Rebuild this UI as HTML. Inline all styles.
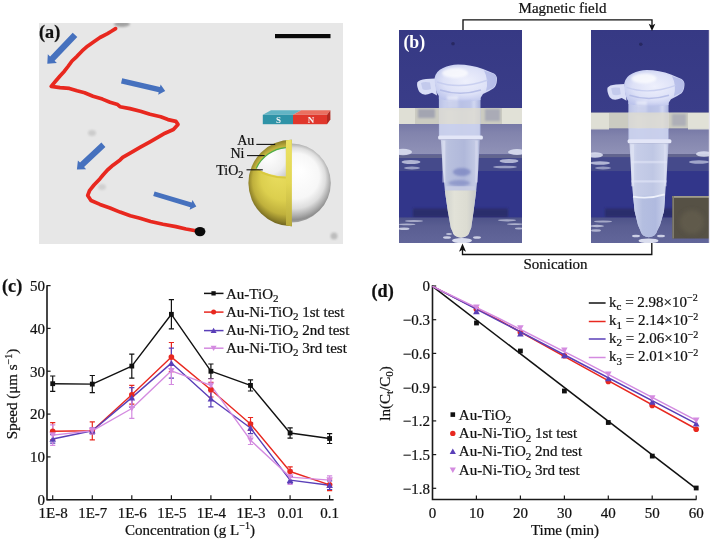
<!DOCTYPE html>
<html><head><meta charset="utf-8"><title>Figure</title>
<style>
html,body{margin:0;padding:0;background:#fff;}
body{width:710px;height:540px;overflow:hidden;}
svg{display:block;}
text{font-family:"Liberation Serif","DejaVu Serif",serif;fill:#111;stroke:#111;stroke-width:0.22px;}
.b{font-weight:bold;}
</style></head><body>
<svg width="710" height="540" viewBox="0 0 710 540">
<rect x="0" y="0" width="710" height="540" fill="#ffffff"/>
<defs>
<filter id="bl1" x="-20%" y="-20%" width="140%" height="140%"><feGaussianBlur stdDeviation="1"/></filter>
<filter id="bl2" x="-20%" y="-20%" width="140%" height="140%"><feGaussianBlur stdDeviation="2"/></filter>
<filter id="bl3" x="-30%" y="-30%" width="160%" height="160%"><feGaussianBlur stdDeviation="3.5"/></filter>
<filter id="bl05" x="-20%" y="-20%" width="140%" height="140%"><feGaussianBlur stdDeviation="0.5"/></filter>
</defs>
<g id="panelA">
<rect x="39" y="23" width="304" height="221" fill="#e7e7e7"/>
<clipPath id="cpA"><rect x="39" y="23" width="304" height="221"/></clipPath>
<g clip-path="url(#cpA)"><ellipse cx="122" cy="24" rx="8" ry="3" fill="#808080" opacity="0.65" filter="url(#bl1)"/></g>
<ellipse cx="92" cy="133" rx="4" ry="3" fill="#aaa" opacity="0.45" filter="url(#bl1)"/>
<ellipse cx="102" cy="187" rx="4" ry="3" fill="#b4b4b4" opacity="0.45" filter="url(#bl1)"/>
<ellipse cx="334" cy="236" rx="3.5" ry="3.5" fill="#aaa" opacity="0.7" filter="url(#bl1)"/>
<path d="M115.6 28.6 L111.0 31.5 L107.5 33.6 L100.0 37.5 L93.5 42.0 L87.5 46.2 L82.1 50.9 L77.0 56.3 L72.0 61.0 L68.0 66.5 L64.4 71.2 L60.0 76.0 L55.5 81.3 L51.2 86.4 L60.0 87.6 L69.4 88.4 L77.0 90.8 L84.6 92.7 L93.0 96.2 L102.4 99.1 L110.0 102.3 L117.6 104.6 L120.0 106.7 L130.0 108.6 L140.4 111.2 L150.0 114.3 L160.7 116.8 L168.0 119.6 L175.9 121.4 L178.0 124.4 L173.4 129.5 L165.0 133.2 L158.2 137.1 L150.0 141.8 L140.4 147.2 L131.0 152.6 L122.7 157.4 L120.1 159.9 L113.0 165.2 L107.5 170.0 L103.0 175.0 L99.8 178.9 L94.0 185.0 L89.7 190.3 L87.7 195.4 L91.0 200.5 L100.0 204.4 L110.0 208.0 L120.0 212.1 L130.3 215.7 L140.0 218.2 L150.6 221.5 L163.0 224.2 L175.9 226.6 L186.0 229.0 L197.0 231.0" fill="none" stroke="#e8281f" stroke-width="3.7" stroke-linejoin="round" stroke-linecap="round"/>
<ellipse cx="200" cy="231.6" rx="5.4" ry="4.7" fill="#0a0a0a"/>
<polygon points="72.7,32.7 50.1,56.4 47.8,54.2 47.3,63.8 56.9,62.9 54.6,60.7 77.3,37.1" fill="#4671be"/>
<polygon points="121.0,83.4 158.7,92.3 158.2,94.8 165.2,91.1 160.6,84.6 160.0,87.1 122.2,78.2" fill="#4671be"/>
<polygon points="101.4,142.6 80.0,162.6 77.9,160.4 76.9,169.6 86.1,169.2 84.1,167.0 105.4,147.0" fill="#4671be"/>
<polygon points="153.2,196.1 190.3,207.2 189.6,209.7 196.3,206.4 192.5,199.9 191.7,202.5 154.6,191.5" fill="#4671be"/>
<g id="magnet">
<polygon points="262.8,114.8 271,110.3 301.2,110.3 293,114.8" fill="#62b4c4"/>
<polygon points="293,114.8 301.2,110.3 330.4,110.3 327,114.8" fill="#ea6f60"/>
<polygon points="327,114.8 330.4,110.3 330.4,119.6 327,124.2" fill="#b32b22"/>
<rect x="262.8" y="114.8" width="30.2" height="9.4" fill="#2f93a7"/>
<rect x="293" y="114.8" width="34" height="9.4" fill="#e0372c"/>
<text x="278.6" y="122.6" font-size="9" text-anchor="middle" class="b" style="fill:#f4f4f4;stroke:none">S</text>
<text x="311" y="122.6" font-size="9" text-anchor="middle" class="b" style="fill:#f4f4f4;stroke:none">N</text>
</g>
<defs>
<radialGradient id="gWhite" gradientUnits="userSpaceOnUse" cx="293" cy="181" r="41" fx="301" fy="170"><stop offset="0" stop-color="#ffffff"/><stop offset="0.55" stop-color="#f7f7f7"/><stop offset="0.74" stop-color="#dedede"/><stop offset="0.88" stop-color="#adadad"/><stop offset="0.96" stop-color="#8e8e8e"/><stop offset="1" stop-color="#a2a2a2"/></radialGradient>
<radialGradient id="gYel" gradientUnits="userSpaceOnUse" cx="290" cy="182" r="44" fx="276" fy="174"><stop offset="0" stop-color="#e9dd5e"/><stop offset="0.5" stop-color="#dccf4e"/><stop offset="0.78" stop-color="#bfb03c"/><stop offset="0.92" stop-color="#8f822a"/><stop offset="1" stop-color="#6e6320"/></radialGradient>
<radialGradient id="gInner" gradientUnits="userSpaceOnUse" cx="268" cy="156" r="30"><stop offset="0" stop-color="#ffffff"/><stop offset="0.6" stop-color="#efefef"/><stop offset="1" stop-color="#bdbdbd"/></radialGradient>
<linearGradient id="gStripe" x1="0" y1="0" x2="0" y2="1"><stop offset="0" stop-color="#ece262"/><stop offset="0.5" stop-color="#e2d654"/><stop offset="1" stop-color="#b9ab3c"/></linearGradient>
<clipPath id="cpYel"><rect x="240" y="135" width="51.8" height="100"/></clipPath>
<clipPath id="cpWh"><rect x="291.6" y="135" width="50" height="100"/></clipPath>
</defs>
<g id="sphere">
<circle cx="291.6" cy="183" r="43.2" fill="url(#gYel)" clip-path="url(#cpYel)"/>
<circle cx="291.4" cy="183" r="39.4" fill="url(#gWhite)" clip-path="url(#cpWh)"/>
<path d="M286 140.3 L291.8 139.8 L291.8 226.2 L286 225.6 Z" fill="url(#gStripe)"/>
<path d="M285.8 147.8 A36.5 36.5 0 0 0 256.3 168.2 Q270 176.4 285.8 176.4 Z" fill="url(#gInner)"/>
<path d="M256.3 168.6 Q270 177 285.8 176.8 L285.8 178.4 Q269 178.6 255.6 170.2 Z" fill="#d9c93f"/>
<path d="M285.8 147.6 A36.5 36.5 0 0 0 256.2 168.4" fill="none" stroke="#4fae4a" stroke-width="1.1"/>
</g>
<line x1="256.3" x2="275.2" y1="144.4" y2="144.4" stroke="#111" stroke-width="1.1"/>
<line x1="247" x2="264.6" y1="155.6" y2="155.6" stroke="#111" stroke-width="1.1"/>
<line x1="246.5" x2="262.8" y1="169.8" y2="169.8" stroke="#111" stroke-width="1.1"/>
<text x="237.2" y="145" font-size="14">Au</text>
<text x="230.5" y="158.4" font-size="14">Ni</text>
<text x="216.3" y="175" font-size="14">TiO<tspan dy="2.8" font-size="10">2</tspan></text>
<rect x="275" y="34" width="55.5" height="4.2" fill="#0a0a0a"/>
<text class="b" x="39" y="38.2" font-size="18.2">(a)</text>
</g>
<g id="panelB">
<defs>
<clipPath id="cpL"><rect x="399" y="30" width="123" height="213"/></clipPath>
<clipPath id="cpR"><rect x="591" y="30" width="119" height="213"/></clipPath>
<linearGradient id="gTop" x1="0" y1="0" x2="0" y2="1"><stop offset="0" stop-color="#363984"/><stop offset="0.5" stop-color="#3b3e8a"/><stop offset="1" stop-color="#373a86"/></linearGradient>
<linearGradient id="gMid" x1="0" y1="0" x2="0" y2="1"><stop offset="0" stop-color="#7779a6"/><stop offset="0.3" stop-color="#8284ad"/><stop offset="1" stop-color="#9092b7"/></linearGradient>
<linearGradient id="gBot" x1="0" y1="0" x2="0" y2="1"><stop offset="0" stop-color="#4e5389"/><stop offset="0.35" stop-color="#5a5e92"/><stop offset="1" stop-color="#62669a"/></linearGradient>
<linearGradient id="gBody" x1="0" y1="0" x2="1" y2="0"><stop offset="0" stop-color="#b9c1e6"/><stop offset="0.25" stop-color="#d3d9f2"/><stop offset="0.55" stop-color="#c3cbea"/><stop offset="0.85" stop-color="#d0d6f0"/><stop offset="1" stop-color="#aab3de"/></linearGradient>
<linearGradient id="gCone" x1="0" y1="0" x2="1" y2="0"><stop offset="0" stop-color="#c8cee6"/><stop offset="0.2" stop-color="#b8c0de"/><stop offset="0.6" stop-color="#b0b8da"/><stop offset="0.88" stop-color="#c2c9e4"/><stop offset="1" stop-color="#b0b8da"/></linearGradient>
<linearGradient id="gConeR" x1="0" y1="0" x2="1" y2="0"><stop offset="0" stop-color="#d6dbef"/><stop offset="0.2" stop-color="#c6cde8"/><stop offset="0.6" stop-color="#bfc7e4"/><stop offset="0.88" stop-color="#d0d6ec"/><stop offset="1" stop-color="#bfc7e4"/></linearGradient>
<linearGradient id="gMilk" x1="0" y1="0" x2="1" y2="0"><stop offset="0" stop-color="#cfd1cc"/><stop offset="0.3" stop-color="#e2e2d8"/><stop offset="0.7" stop-color="#dcdcd2"/><stop offset="1" stop-color="#c6c8c8"/></linearGradient>
<linearGradient id="gClear" x1="0" y1="0" x2="1" y2="0"><stop offset="0" stop-color="#ccd3ec"/><stop offset="0.3" stop-color="#b4bee0"/><stop offset="0.7" stop-color="#b0badf"/><stop offset="1" stop-color="#c8cfea"/></linearGradient>
<radialGradient id="gLid" cx="0.5" cy="0.45" r="0.6"><stop offset="0" stop-color="#eef0fc"/><stop offset="0.6" stop-color="#dde1f7"/><stop offset="1" stop-color="#bcc4ec"/></radialGradient>
</defs>
<g clip-path="url(#cpL)">
<rect x="399" y="30" width="123" height="213" fill="url(#gTop)"/>
<rect x="399" y="124.0" width="123" height="30.5" fill="url(#gMid)"/>
<rect x="399" y="154.5" width="123" height="3.5" fill="#62658f"/>
<rect x="399" y="158.0" width="123" height="13.0" fill="#454a8b"/>
<rect x="399" y="171.0" width="123" height="46.5" fill="#32368a"/>
<rect x="413" y="208.5" width="95" height="9.0" fill="#2b2e6c" filter="url(#bl1)"/>
<rect x="399" y="217.5" width="123" height="25.5" fill="url(#gBot)"/>
<rect x="399" y="108.0" width="123" height="16.0" fill="#cbcbc1"/>
</g>
<g clip-path="url(#cpL)">
<rect x="418" y="109" width="17" height="9" fill="#9a9cae" opacity="0.8" filter="url(#bl1)"/>
<rect x="485" y="109" width="15" height="12" fill="#a2a4b4" opacity="0.8" filter="url(#bl1)"/>
<rect x="399" y="108" width="16" height="16" fill="#e2e2d8" opacity="0.9" filter="url(#bl05)"/>
<rect x="502" y="108" width="20" height="16" fill="#e4e4da" opacity="0.9" filter="url(#bl05)"/>
<ellipse cx="403" cy="152" rx="9" ry="3.2" fill="#dfe3f4" opacity="0.85" filter="url(#bl05)"/>
<ellipse cx="517" cy="152" rx="9" ry="3.0" fill="#dfe3f4" opacity="0.85" filter="url(#bl05)"/>
<ellipse cx="411" cy="162" rx="9.5" ry="2" fill="#dfe3f4" opacity="0.7" filter="url(#bl05)"/>
<ellipse cx="509" cy="161" rx="9.5" ry="2" fill="#dfe3f4" opacity="0.7" filter="url(#bl05)"/>
<ellipse cx="412" cy="168" rx="8" ry="1.5" fill="#dfe3f4" opacity="0.55" filter="url(#bl05)"/>
<ellipse cx="505" cy="167" rx="12" ry="1.3" fill="#dfe3f4" opacity="0.55" filter="url(#bl05)"/>
<ellipse cx="414" cy="221" rx="9" ry="1.1" fill="#e8ebf8" opacity="0.55" filter="url(#bl05)"/>
<ellipse cx="407" cy="224.4" rx="8.5" ry="0.9" fill="#e8ebf8" opacity="0.6" filter="url(#bl05)"/>
<ellipse cx="404" cy="228.8" rx="5.5" ry="1.2" fill="#e8ebf8" opacity="0.75" filter="url(#bl05)"/>
<ellipse cx="507" cy="220.3" rx="9" ry="1.1" fill="#e8ebf8" opacity="0.55" filter="url(#bl05)"/>
<ellipse cx="515" cy="224.2" rx="8" ry="0.9" fill="#e8ebf8" opacity="0.6" filter="url(#bl05)"/>
<ellipse cx="519" cy="228.5" rx="4" ry="0.9" fill="#e8ebf8" opacity="0.6" filter="url(#bl05)"/>
<ellipse cx="449" cy="234" rx="3" ry="1.1" fill="#e8ebf8" opacity="0.7" filter="url(#bl05)"/>
<ellipse cx="462" cy="240.6" rx="10" ry="2.6" fill="#e8ebf8" opacity="0.9" filter="url(#bl05)"/>
<ellipse cx="447" cy="237.5" rx="4" ry="1.3" fill="#e8ebf8" opacity="0.8" filter="url(#bl05)"/>
<ellipse cx="477" cy="237.5" rx="4" ry="1.3" fill="#e8ebf8" opacity="0.8" filter="url(#bl05)"/>
<ellipse cx="453" cy="43.7" rx="1.8" ry="1.8" fill="#25265c" opacity="0.85" filter="url(#bl05)"/>
</g>
<g clip-path="url(#cpL)"><g transform="" filter="url(#bl05)">
<path d="M435 78.5 L426 79 Q419 79.5 417.2 82.5 Q416.5 87 419.5 92 Q423 95.8 428 94.2 L432 92.8 L437 95.5 Z" fill="#d9def6"/>
<path d="M421 83 Q424 81.5 430 82.5 L431 89 Q425 91 422.5 89 Z" fill="#b4bce6" opacity="0.6"/>
<rect x="438.9" y="88" width="41.6" height="50" fill="url(#gBody)"/>
<path d="M434.6 78 Q436 71 443 68 Q450 64.6 458 64.5 Q471 64.6 483 69 L494 73.5 Q497.5 76 497 80 Q496.6 85.5 494 88 Q489 91.5 483 94 L480.5 98 L480.5 100 Q460 104 438.9 99 L438.9 96 Q435 92 434.6 78 Z" fill="url(#gLid)"/>
<path d="M484 70.5 L494 74 Q497 76.5 496.5 80 Q496 85 493.5 87.5 L486 91 Q489 80 484 70.5 Z" fill="#aeb6e6" opacity="0.75" filter="url(#bl05)"/>
<ellipse cx="455" cy="73" rx="13" ry="5" fill="#ffffff" opacity="0.7" filter="url(#bl1)"/>
<rect x="447" y="96" width="11" height="12" fill="#ffffff" opacity="0.45" filter="url(#bl1)"/>
<path d="M440 90 Q460 96.5 481 90" fill="none" stroke="#aeb7e4" stroke-width="1.6" opacity="0.8"/>
<path d="M437 82 Q460 90 488 80" fill="none" stroke="#c2c9ee" stroke-width="1.4" opacity="0.8"/>
<rect x="446" y="100" width="26" height="10" fill="#aeb7e2" opacity="0.45" filter="url(#bl1)"/>
</g></g>
<g clip-path="url(#cpL)"><g filter="url(#bl05)">
<rect x="438.9" y="108.0" width="41.6" height="16.0" fill="#dedccf" opacity="0.8"/>
<rect x="439.7" y="124.0" width="40.0" height="12.5" fill="#c9cfec" opacity="0.92"/>
<rect x="438.1" y="135.5" width="44.8" height="4" rx="1.5" fill="#e3e6f7"/>
<path d="M440.8 139.5 L442.8 169.4 L445.0 191.7 L447.8 211.1 L450.8 227.8 L452.5 231.5 Q453.3 237.0 461.1 237.7 Q468.8 237.0 469.6 231.5 L471.2 227.8 L473.6 211.1 L476.1 191.7 L478.3 169.4 L479.7 139.5 Z" fill="url(#gCone)"/>
<path d="M444.9 190.3 L445.0 191.7 L447.8 211.1 L450.8 227.8 L452.5 231.5 Q453.3 237.0 461.1 237.7 Q468.8 237.0 469.6 231.5 L471.2 227.8 L473.6 211.1 L476.1 191.7 L476.2 190.3 Z" fill="url(#gMilk)"/>
<ellipse cx="461.8" cy="172" rx="9" ry="4" fill="#5f6ab4" opacity="0.5" filter="url(#bl1)"/>
<ellipse cx="459.2" cy="183" rx="11" ry="3" fill="#6873b8" opacity="0.45" filter="url(#bl1)"/>
<rect x="445.8" y="186.3" width="28.9" height="4" fill="#cdd2e6" opacity="0.7"/>
<rect x="442.4" y="140.5" width="3" height="42" fill="#e6e9f8" opacity="0.55"/>
<rect x="475.3" y="140.5" width="2.6" height="42" fill="#e6e9f8" opacity="0.45"/>
</g></g>
<g clip-path="url(#cpR)">
<rect x="591" y="30" width="119" height="213" fill="url(#gTop)"/>
<rect x="591" y="128.5" width="119" height="25.5" fill="url(#gMid)"/>
<rect x="591" y="154.0" width="119" height="3.5" fill="#62658f"/>
<rect x="591" y="157.5" width="119" height="13.7" fill="#454a8b"/>
<rect x="591" y="171.2" width="119" height="46.3" fill="#32368a"/>
<rect x="605" y="208.5" width="91" height="9.0" fill="#2b2e6c" filter="url(#bl1)"/>
<rect x="591" y="217.5" width="119" height="25.5" fill="url(#gBot)"/>
<rect x="591" y="112.5" width="119" height="16.0" fill="#cbcbc1"/>
</g>
<g clip-path="url(#cpR)">
<rect x="591" y="113" width="18" height="16.5" fill="#e2e2d8" opacity="0.9" filter="url(#bl05)"/>
<rect x="672" y="114" width="14" height="12" fill="#a2a4b4" opacity="0.7" filter="url(#bl1)"/>
<rect x="688" y="113" width="22" height="16.5" fill="#e4e4da" opacity="0.9" filter="url(#bl05)"/>
<ellipse cx="595" cy="155" rx="8" ry="2.8" fill="#dfe3f4" opacity="0.85" filter="url(#bl05)"/>
<ellipse cx="704" cy="154" rx="8" ry="2.8" fill="#dfe3f4" opacity="0.85" filter="url(#bl05)"/>
<ellipse cx="600" cy="163" rx="10" ry="1.8" fill="#dfe3f4" opacity="0.7" filter="url(#bl05)"/>
<ellipse cx="699" cy="162" rx="10" ry="1.8" fill="#dfe3f4" opacity="0.6" filter="url(#bl05)"/>
<ellipse cx="603" cy="168" rx="8" ry="1.4" fill="#dfe3f4" opacity="0.5" filter="url(#bl05)"/>
<ellipse cx="603" cy="221.5" rx="9" ry="1.1" fill="#e8ebf8" opacity="0.55" filter="url(#bl05)"/>
<ellipse cx="597" cy="226" rx="7" ry="1.2" fill="#e8ebf8" opacity="0.65" filter="url(#bl05)"/>
<ellipse cx="596" cy="230.5" rx="5" ry="1.2" fill="#e8ebf8" opacity="0.6" filter="url(#bl05)"/>
<ellipse cx="648.5" cy="240.8" rx="10" ry="2.4" fill="#e8ebf8" opacity="0.9" filter="url(#bl05)"/>
<ellipse cx="636" cy="236" rx="4" ry="1.3" fill="#e8ebf8" opacity="0.8" filter="url(#bl05)"/>
<ellipse cx="661" cy="236" rx="4" ry="1.3" fill="#e8ebf8" opacity="0.8" filter="url(#bl05)"/>
<ellipse cx="640.8" cy="44.2" rx="1.8" ry="1.8" fill="#25265c" opacity="0.85" filter="url(#bl05)"/>
</g>
<g clip-path="url(#cpR)"><g transform="translate(189.5 5.6) translate(438.9 64.5) scale(0.965 0.985) translate(-438.9 -64.5)" filter="url(#bl05)">
<path d="M435 78.5 L426 79 Q419 79.5 417.2 82.5 Q416.5 87 419.5 92 Q423 95.8 428 94.2 L432 92.8 L437 95.5 Z" fill="#d9def6"/>
<path d="M421 83 Q424 81.5 430 82.5 L431 89 Q425 91 422.5 89 Z" fill="#b4bce6" opacity="0.6"/>
<rect x="438.9" y="88" width="41.6" height="50" fill="url(#gBody)"/>
<path d="M434.6 78 Q436 71 443 68 Q450 64.6 458 64.5 Q471 64.6 483 69 L494 73.5 Q497.5 76 497 80 Q496.6 85.5 494 88 Q489 91.5 483 94 L480.5 98 L480.5 100 Q460 104 438.9 99 L438.9 96 Q435 92 434.6 78 Z" fill="url(#gLid)"/>
<path d="M484 70.5 L494 74 Q497 76.5 496.5 80 Q496 85 493.5 87.5 L486 91 Q489 80 484 70.5 Z" fill="#aeb6e6" opacity="0.75" filter="url(#bl05)"/>
<ellipse cx="455" cy="73" rx="13" ry="5" fill="#ffffff" opacity="0.7" filter="url(#bl1)"/>
<rect x="447" y="96" width="11" height="12" fill="#ffffff" opacity="0.45" filter="url(#bl1)"/>
<path d="M440 90 Q460 96.5 481 90" fill="none" stroke="#aeb7e4" stroke-width="1.6" opacity="0.8"/>
<path d="M437 82 Q460 90 488 80" fill="none" stroke="#c2c9ee" stroke-width="1.4" opacity="0.8"/>
<rect x="446" y="100" width="26" height="10" fill="#aeb7e2" opacity="0.45" filter="url(#bl1)"/>
</g></g>
<g clip-path="url(#cpR)"><g filter="url(#bl05)">
<rect x="628.4" y="112.5" width="40.6" height="16.0" fill="#dedccf" opacity="0.8"/>
<rect x="629.2" y="128.5" width="39.0" height="11.8" fill="#c9cfec" opacity="0.92"/>
<rect x="627.6" y="139.3" width="43.8" height="4" rx="1.5" fill="#e3e6f7"/>
<path d="M629.5 143.3 L631.0 170.0 L632.5 190.0 L634.6 211.0 L638.0 225.0 L640.6 231.0 Q641.4 236.5 648.8 237.2 Q656.2 236.5 657.0 231.0 L660.0 225.0 L664.0 211.0 L665.5 190.0 L667.0 170.0 L668.5 143.3 Z" fill="url(#gConeR)"/>
<path d="M633.1 195.8 L634.6 211.0 L638.0 225.0 L640.6 231.0 Q641.4 236.5 648.8 237.2 Q656.2 236.5 657.0 231.0 L660.0 225.0 L664.0 211.0 L665.1 195.8 Z" fill="url(#gClear)"/>
<path d="M633.0 196.6 Q649.0 199.4 664.7 194.4" fill="none" stroke="#eef1fb" stroke-width="1.7"/>
<rect x="631.5" y="180.3" width="35.0" height="2.2" fill="#dfe4f6" opacity="0.7"/>
<rect x="631.0" y="160.8" width="36.0" height="2.5" fill="#e3e7f7" opacity="0.55"/>
<rect x="631.1" y="144.3" width="3" height="42" fill="#e6e9f8" opacity="0.55"/>
<rect x="664.1" y="144.3" width="2.6" height="42" fill="#e6e9f8" opacity="0.45"/>
</g></g>
<g clip-path="url(#cpR)"><rect x="672.4" y="196" width="38" height="42.5" fill="#565145"/>
<rect x="672.4" y="196" width="38" height="1.8" fill="#a09c8a"/><rect x="672.4" y="196" width="1.6" height="42.5" fill="#807c6e"/>
<ellipse cx="692" cy="222" rx="12" ry="12" fill="#635d4e" opacity="0.8" filter="url(#bl2)"/></g>
<rect x="708.8" y="30" width="1.2" height="213" fill="#e8e6f0"/>

<path d="M463 30 V19.9 H652 V27" fill="none" stroke="#111" stroke-width="1.35"/>
<path d="M652 31 L648.7 23.7 L652 25.6 L655.3 23.7 Z" fill="#111"/>
<path d="M651.8 243 V254.5 H462.5 V249" fill="none" stroke="#111" stroke-width="1.35"/>
<path d="M462.5 243.6 L459 251.8 L462.5 249.8 L466 251.8 Z" fill="#111"/>
<text x="562.5" y="12.5" font-size="15" text-anchor="middle">Magnetic field</text>
<text x="555.5" y="268.5" font-size="15" text-anchor="middle">Sonication</text>
<text class="b" x="403.4" y="48.3" font-size="17.8" style="fill:#ffffff;stroke:none">(b)</text>
</g>
<g id="panelC">
<path d="M47 285.2 V499.8 H333.6" fill="none" stroke="#1a1a1a" stroke-width="1.6"/>
<line x1="47" x2="50.6" y1="499.8" y2="499.8" stroke="#1a1a1a" stroke-width="1.2"/>
<text x="45" y="505.1" font-size="15" text-anchor="end">0</text>
<line x1="47" x2="50.6" y1="456.9" y2="456.9" stroke="#1a1a1a" stroke-width="1.2"/>
<text x="45" y="462.2" font-size="15" text-anchor="end">10</text>
<line x1="47" x2="50.6" y1="414.1" y2="414.1" stroke="#1a1a1a" stroke-width="1.2"/>
<text x="45" y="419.4" font-size="15" text-anchor="end">20</text>
<line x1="47" x2="50.6" y1="371.2" y2="371.2" stroke="#1a1a1a" stroke-width="1.2"/>
<text x="45" y="376.6" font-size="15" text-anchor="end">30</text>
<line x1="47" x2="50.6" y1="328.4" y2="328.4" stroke="#1a1a1a" stroke-width="1.2"/>
<text x="45" y="333.7" font-size="15" text-anchor="end">40</text>
<line x1="47" x2="50.6" y1="285.6" y2="285.6" stroke="#1a1a1a" stroke-width="1.2"/>
<text x="45" y="290.9" font-size="15" text-anchor="end">50</text>
<line x1="52.7" x2="52.7" y1="499.8" y2="495.2" stroke="#1a1a1a" stroke-width="1.2"/>
<text x="53.2" y="517.5" font-size="15" text-anchor="middle">1E-8</text>
<line x1="92.3" x2="92.3" y1="499.8" y2="495.2" stroke="#1a1a1a" stroke-width="1.2"/>
<text x="92.8" y="517.5" font-size="15" text-anchor="middle">1E-7</text>
<line x1="131.8" x2="131.8" y1="499.8" y2="495.2" stroke="#1a1a1a" stroke-width="1.2"/>
<text x="132.3" y="517.5" font-size="15" text-anchor="middle">1E-6</text>
<line x1="171.4" x2="171.4" y1="499.8" y2="495.2" stroke="#1a1a1a" stroke-width="1.2"/>
<text x="171.9" y="517.5" font-size="15" text-anchor="middle">1E-5</text>
<line x1="210.9" x2="210.9" y1="499.8" y2="495.2" stroke="#1a1a1a" stroke-width="1.2"/>
<text x="211.4" y="517.5" font-size="15" text-anchor="middle">1E-4</text>
<line x1="250.5" x2="250.5" y1="499.8" y2="495.2" stroke="#1a1a1a" stroke-width="1.2"/>
<text x="251.0" y="517.5" font-size="15" text-anchor="middle">1E-3</text>
<line x1="290.1" x2="290.1" y1="499.8" y2="495.2" stroke="#1a1a1a" stroke-width="1.2"/>
<text x="290.6" y="517.5" font-size="15" text-anchor="middle">0.01</text>
<line x1="329.6" x2="329.6" y1="499.8" y2="495.2" stroke="#1a1a1a" stroke-width="1.2"/>
<text x="329.6" y="517.5" font-size="15" text-anchor="middle">0.1</text>
<text x="190" y="534.5" font-size="15" text-anchor="middle">Concentration (g L<tspan dy="-5.5" font-size="10">−1</tspan><tspan dy="5.5">)</tspan></text>
<text transform="translate(17.3,394) rotate(-90)" font-size="15" text-anchor="middle">Speed (μm s<tspan dy="-5.5" font-size="10">−1</tspan><tspan dy="5.5">)</tspan></text>
<text class="b" x="2" y="292" font-size="18.2">(c)</text>
<path d="M52.7 383.7 L92.3 384.1 L131.8 366.1 L171.4 314.3 L210.9 371.2 L250.5 385.4 L290.1 433.0 L329.6 438.5" fill="none" stroke="#111111" stroke-width="1.4" stroke-linejoin="round"/>
<path d="M52.7 376.0 V391.4 M50.1 376.0 H55.3 M50.1 391.4 H55.3 M92.3 375.5 V392.7 M89.7 375.5 H94.9 M89.7 392.7 H94.9 M131.8 354.1 V378.1 M129.2 354.1 H134.4 M129.2 378.1 H134.4 M171.4 299.7 V328.8 M168.8 299.7 H174.0 M168.8 328.8 H174.0 M210.9 364.0 V378.5 M208.3 364.0 H213.5 M208.3 378.5 H213.5 M250.5 379.8 V391.0 M247.9 379.8 H253.1 M247.9 391.0 H253.1 M290.1 427.8 V438.1 M287.5 427.8 H292.7 M287.5 438.1 H292.7 M329.6 433.6 V443.5 M327.0 433.6 H332.2 M327.0 443.5 H332.2 " fill="none" stroke="#111111" stroke-width="1.2"/>
<path d="M52.7 431.2 L92.3 430.8 L131.8 394.8 L171.4 357.1 L210.9 389.7 L250.5 424.0 L290.1 471.5 L329.6 484.8" fill="none" stroke="#e8281f" stroke-width="1.4" stroke-linejoin="round"/>
<path d="M52.7 422.7 V439.8 M50.1 422.7 H55.3 M50.1 439.8 H55.3 M92.3 421.8 V439.8 M89.7 421.8 H94.9 M89.7 439.8 H94.9 M131.8 385.4 V404.2 M129.2 385.4 H134.4 M129.2 404.2 H134.4 M171.4 342.5 V371.7 M168.8 342.5 H174.0 M168.8 371.7 H174.0 M210.9 382.4 V397.0 M208.3 382.4 H213.5 M208.3 397.0 H213.5 M250.5 417.5 V430.4 M247.9 417.5 H253.1 M247.9 430.4 H253.1 M290.1 466.8 V476.2 M287.5 466.8 H292.7 M287.5 476.2 H292.7 M329.6 479.0 V490.6 M327.0 479.0 H332.2 M327.0 490.6 H332.2 " fill="none" stroke="#e8281f" stroke-width="1.2"/>
<path d="M52.7 439.0 L92.3 430.8 L131.8 397.6 L171.4 363.1 L210.9 398.7 L250.5 428.0 L290.1 480.1 L329.6 485.2" fill="none" stroke="#5a3fb8" stroke-width="1.4" stroke-linejoin="round"/>
<path d="M52.7 434.7 V443.2 M50.1 434.7 H55.3 M50.1 443.2 H55.3 M92.3 427.8 V433.8 M89.7 427.8 H94.9 M89.7 433.8 H94.9 M131.8 387.7 V407.5 M129.2 387.7 H134.4 M129.2 407.5 H134.4 M171.4 348.1 V378.1 M168.8 348.1 H174.0 M168.8 378.1 H174.0 M210.9 390.5 V406.8 M208.3 390.5 H213.5 M208.3 406.8 H213.5 M250.5 422.5 V433.6 M247.9 422.5 H253.1 M247.9 433.6 H253.1 M290.1 476.7 V483.5 M287.5 476.7 H292.7 M287.5 483.5 H292.7 M329.6 480.9 V489.5 M327.0 480.9 H332.2 M327.0 489.5 H332.2 " fill="none" stroke="#5a3fb8" stroke-width="1.2"/>
<path d="M52.7 435.1 L92.3 430.8 L131.8 408.5 L171.4 370.8 L210.9 385.4 L250.5 440.2 L290.1 477.1 L329.6 480.1" fill="none" stroke="#d48be0" stroke-width="1.4" stroke-linejoin="round"/>
<path d="M52.7 424.8 V445.4 M50.1 424.8 H55.3 M50.1 445.4 H55.3 M92.3 427.8 V433.8 M89.7 427.8 H94.9 M89.7 433.8 H94.9 M131.8 398.7 V418.4 M129.2 398.7 H134.4 M129.2 418.4 H134.4 M171.4 357.1 V384.5 M168.8 357.1 H174.0 M168.8 384.5 H174.0 M210.9 379.0 V391.8 M208.3 379.0 H213.5 M208.3 391.8 H213.5 M250.5 436.0 V444.5 M247.9 436.0 H253.1 M247.9 444.5 H253.1 M290.1 469.8 V484.4 M287.5 469.8 H292.7 M287.5 484.4 H292.7 M329.6 475.8 V484.4 M327.0 475.8 H332.2 M327.0 484.4 H332.2 " fill="none" stroke="#d48be0" stroke-width="1.2"/>
<rect x="50.3" y="381.3" width="4.8" height="4.8" fill="#111111"/>
<rect x="89.9" y="381.7" width="4.8" height="4.8" fill="#111111"/>
<rect x="129.4" y="363.7" width="4.8" height="4.8" fill="#111111"/>
<rect x="169.0" y="311.9" width="4.8" height="4.8" fill="#111111"/>
<rect x="208.5" y="368.9" width="4.8" height="4.8" fill="#111111"/>
<rect x="248.1" y="383.0" width="4.8" height="4.8" fill="#111111"/>
<rect x="287.7" y="430.6" width="4.8" height="4.8" fill="#111111"/>
<rect x="327.2" y="436.1" width="4.8" height="4.8" fill="#111111"/>
<circle cx="52.7" cy="431.2" r="2.8" fill="#e8281f"/>
<circle cx="92.3" cy="430.8" r="2.8" fill="#e8281f"/>
<circle cx="131.8" cy="394.8" r="2.8" fill="#e8281f"/>
<circle cx="171.4" cy="357.1" r="2.8" fill="#e8281f"/>
<circle cx="210.9" cy="389.7" r="2.8" fill="#e8281f"/>
<circle cx="250.5" cy="424.0" r="2.8" fill="#e8281f"/>
<circle cx="290.1" cy="471.5" r="2.8" fill="#e8281f"/>
<circle cx="329.6" cy="484.8" r="2.8" fill="#e8281f"/>
<polygon points="52.7,435.9 49.4,441.8 56.0,441.8" fill="#5a3fb8"/>
<polygon points="92.3,427.7 89.0,433.6 95.6,433.6" fill="#5a3fb8"/>
<polygon points="131.8,394.5 128.5,400.4 135.1,400.4" fill="#5a3fb8"/>
<polygon points="171.4,360.0 168.1,365.9 174.7,365.9" fill="#5a3fb8"/>
<polygon points="210.9,395.6 207.6,401.5 214.2,401.5" fill="#5a3fb8"/>
<polygon points="250.5,424.9 247.2,430.8 253.8,430.8" fill="#5a3fb8"/>
<polygon points="290.1,477.0 286.8,482.9 293.4,482.9" fill="#5a3fb8"/>
<polygon points="329.6,482.1 326.3,488.0 332.9,488.0" fill="#5a3fb8"/>
<polygon points="52.7,438.2 49.4,432.3 56.0,432.3" fill="#d48be0"/>
<polygon points="92.3,433.9 89.0,428.0 95.6,428.0" fill="#d48be0"/>
<polygon points="131.8,411.6 128.5,405.7 135.1,405.7" fill="#d48be0"/>
<polygon points="171.4,373.9 168.1,368.0 174.7,368.0" fill="#d48be0"/>
<polygon points="210.9,388.5 207.6,382.6 214.2,382.6" fill="#d48be0"/>
<polygon points="250.5,443.3 247.2,437.4 253.8,437.4" fill="#d48be0"/>
<polygon points="290.1,480.2 286.8,474.3 293.4,474.3" fill="#d48be0"/>
<polygon points="329.6,483.2 326.3,477.3 332.9,477.3" fill="#d48be0"/>
<line x1="204" x2="223.5" y1="293.4" y2="293.4" stroke="#111111" stroke-width="1.5"/>
<rect x="211.4" y="291.2" width="4.3" height="4.3" fill="#111111"/>
<text x="226" y="298.6" font-size="15">Au-TiO<tspan dy="3.2" font-size="11">2</tspan><tspan dy="-3.2"></tspan></text>
<line x1="204" x2="223.5" y1="312.1" y2="312.1" stroke="#e8281f" stroke-width="1.5"/>
<circle cx="213.6" cy="312.1" r="2.5" fill="#e8281f"/>
<text x="226" y="317.0" font-size="15">Au-Ni-TiO<tspan dy="3.2" font-size="11">2</tspan><tspan dy="-3.2"> 1st test</tspan></text>
<line x1="204" x2="223.5" y1="330.6" y2="330.6" stroke="#5a3fb8" stroke-width="1.5"/>
<polygon points="213.6,327.8 210.6,333.1 216.6,333.1" fill="#5a3fb8"/>
<text x="226" y="335.0" font-size="15">Au-Ni-TiO<tspan dy="3.2" font-size="11">2</tspan><tspan dy="-3.2"> 2nd test</tspan></text>
<line x1="204" x2="223.5" y1="348.2" y2="348.2" stroke="#d48be0" stroke-width="1.5"/>
<polygon points="213.6,351.0 210.6,345.7 216.6,345.7" fill="#d48be0"/>
<text x="226" y="352.9" font-size="15">Au-Ni-TiO<tspan dy="3.2" font-size="11">2</tspan><tspan dy="-3.2"> 3rd test</tspan></text>
</g>
<g id="panelD">
<path d="M432.5 285.2 V499.5 H696.5" fill="none" stroke="#1a1a1a" stroke-width="1.6"/>
<line x1="432.5" x2="436.2" y1="286.0" y2="286.0" stroke="#1a1a1a" stroke-width="1.2"/>
<text x="430" y="291.3" font-size="15" text-anchor="end">0</text>
<line x1="432.5" x2="436.2" y1="319.7" y2="319.7" stroke="#1a1a1a" stroke-width="1.2"/>
<text x="430" y="325.0" font-size="15" text-anchor="end">−0.3</text>
<line x1="432.5" x2="436.2" y1="353.4" y2="353.4" stroke="#1a1a1a" stroke-width="1.2"/>
<text x="430" y="358.7" font-size="15" text-anchor="end">−0.6</text>
<line x1="432.5" x2="436.2" y1="387.2" y2="387.2" stroke="#1a1a1a" stroke-width="1.2"/>
<text x="430" y="392.5" font-size="15" text-anchor="end">−0.9</text>
<line x1="432.5" x2="436.2" y1="420.9" y2="420.9" stroke="#1a1a1a" stroke-width="1.2"/>
<text x="430" y="426.2" font-size="15" text-anchor="end">−1.2</text>
<line x1="432.5" x2="436.2" y1="454.6" y2="454.6" stroke="#1a1a1a" stroke-width="1.2"/>
<text x="430" y="459.9" font-size="15" text-anchor="end">−1.5</text>
<line x1="432.5" x2="436.2" y1="488.3" y2="488.3" stroke="#1a1a1a" stroke-width="1.2"/>
<text x="430" y="493.6" font-size="15" text-anchor="end">−1.8</text>
<text x="432.5" y="517.5" font-size="15" text-anchor="middle">0</text>
<line x1="476.4" x2="476.4" y1="499.5" y2="495.6" stroke="#1a1a1a" stroke-width="1.2"/>
<text x="476.4" y="517.5" font-size="15" text-anchor="middle">10</text>
<line x1="520.4" x2="520.4" y1="499.5" y2="495.6" stroke="#1a1a1a" stroke-width="1.2"/>
<text x="520.4" y="517.5" font-size="15" text-anchor="middle">20</text>
<line x1="564.4" x2="564.4" y1="499.5" y2="495.6" stroke="#1a1a1a" stroke-width="1.2"/>
<text x="564.4" y="517.5" font-size="15" text-anchor="middle">30</text>
<line x1="608.3" x2="608.3" y1="499.5" y2="495.6" stroke="#1a1a1a" stroke-width="1.2"/>
<text x="608.3" y="517.5" font-size="15" text-anchor="middle">40</text>
<line x1="652.2" x2="652.2" y1="499.5" y2="495.6" stroke="#1a1a1a" stroke-width="1.2"/>
<text x="652.2" y="517.5" font-size="15" text-anchor="middle">50</text>
<line x1="696.2" x2="696.2" y1="499.5" y2="495.6" stroke="#1a1a1a" stroke-width="1.2"/>
<text x="696.2" y="517.5" font-size="15" text-anchor="middle">60</text>
<text x="565" y="534.5" font-size="15" text-anchor="middle">Time (min)</text>
<text transform="translate(389.5,393.5) rotate(-90)" font-size="15" text-anchor="middle">ln(C<tspan dy="3.2" font-size="11">t</tspan><tspan dy="-3.2">/C</tspan><tspan dy="3.2" font-size="11">0</tspan><tspan dy="-3.2">)</tspan></text>
<text class="b" x="371.5" y="296.5" font-size="18.2">(d)</text>
<path d="M432.5 286.4 L696.2 488.6" fill="none" stroke="#111111" stroke-width="1.5" stroke-linejoin="round"/>
<rect x="474.1" y="320.6" width="4.8" height="4.8" fill="#111111"/>
<rect x="518.0" y="348.6" width="4.8" height="4.8" fill="#111111"/>
<rect x="562.0" y="388.6" width="4.8" height="4.8" fill="#111111"/>
<rect x="605.9" y="420.1" width="4.8" height="4.8" fill="#111111"/>
<rect x="649.9" y="453.7" width="4.8" height="4.8" fill="#111111"/>
<rect x="693.8" y="485.6" width="4.8" height="4.8" fill="#111111"/>
<path d="M432.5 286.4 L500.0 320.7 L580.0 365.2 L696.2 429.0" fill="none" stroke="#e8281f" stroke-width="1.5" stroke-linejoin="round"/>
<circle cx="476.4" cy="309.2" r="2.8" fill="#e8281f"/>
<circle cx="520.4" cy="332.5" r="2.8" fill="#e8281f"/>
<circle cx="564.4" cy="355.8" r="2.8" fill="#e8281f"/>
<circle cx="608.3" cy="381.4" r="2.8" fill="#e8281f"/>
<circle cx="652.2" cy="405.4" r="2.8" fill="#e8281f"/>
<circle cx="696.2" cy="429.2" r="2.8" fill="#e8281f"/>
<path d="M432.5 286.4 L500.0 321.3 L580.0 363.0 L696.2 423.6" fill="none" stroke="#5a3fb8" stroke-width="1.5" stroke-linejoin="round"/>
<polygon points="476.4,308.3 473.1,314.2 479.8,314.2" fill="#5a3fb8"/>
<polygon points="520.4,330.6 517.1,336.5 523.7,336.5" fill="#5a3fb8"/>
<polygon points="564.4,352.3 561.1,358.2 567.6,358.2" fill="#5a3fb8"/>
<polygon points="608.3,375.4 605.0,381.3 611.6,381.3" fill="#5a3fb8"/>
<polygon points="652.2,398.8 649.0,404.7 655.5,404.7" fill="#5a3fb8"/>
<polygon points="696.2,420.5 692.9,426.4 699.5,426.4" fill="#5a3fb8"/>
<path d="M432.5 286.4 L500.0 319.0 L580.0 359.6 L696.2 420.3" fill="none" stroke="#d48be0" stroke-width="1.5" stroke-linejoin="round"/>
<polygon points="476.4,310.5 473.1,304.6 479.8,304.6" fill="#d48be0"/>
<polygon points="520.4,331.1 517.1,325.2 523.7,325.2" fill="#d48be0"/>
<polygon points="564.4,353.4 561.1,347.5 567.6,347.5" fill="#d48be0"/>
<polygon points="608.3,377.3 605.0,371.4 611.6,371.4" fill="#d48be0"/>
<polygon points="652.2,401.2 649.0,395.3 655.5,395.3" fill="#d48be0"/>
<polygon points="696.2,423.4 692.9,417.5 699.5,417.5" fill="#d48be0"/>
<rect x="450.5" y="412.3" width="4.6" height="4.6" fill="#111111"/>
<text x="458.8" y="419.8" font-size="15">Au-TiO<tspan dy="3.2" font-size="11">2</tspan><tspan dy="-3.2"></tspan></text>
<circle cx="452.8" cy="433.4" r="2.7" fill="#e8281f"/>
<text x="458.8" y="438.4" font-size="15">Au-Ni-TiO<tspan dy="3.2" font-size="11">2</tspan><tspan dy="-3.2"> 1st test</tspan></text>
<polygon points="452.8,448.5 449.7,454.1 455.9,454.1" fill="#5a3fb8"/>
<text x="458.8" y="456.3" font-size="15">Au-Ni-TiO<tspan dy="3.2" font-size="11">2</tspan><tspan dy="-3.2"> 2nd test</tspan></text>
<polygon points="452.8,473.1 449.7,467.5 455.9,467.5" fill="#d48be0"/>
<text x="458.8" y="475.0" font-size="15">Au-Ni-TiO<tspan dy="3.2" font-size="11">2</tspan><tspan dy="-3.2"> 3rd test</tspan></text>
<line x1="588.8" x2="605.6" y1="303.0" y2="303.0" stroke="#111111" stroke-width="1.5"/>
<text x="609" y="306.9" font-size="15">k<tspan dy="3.2" font-size="11">c</tspan><tspan dy="-3.2"> = 2.98×10</tspan><tspan dy="-5.5" font-size="10">−2</tspan></text>
<line x1="588.8" x2="605.6" y1="321.5" y2="321.5" stroke="#e8281f" stroke-width="1.5"/>
<text x="609" y="325.3" font-size="15">k<tspan dy="3.2" font-size="11">1</tspan><tspan dy="-3.2"> = 2.14×10</tspan><tspan dy="-5.5" font-size="10">−2</tspan></text>
<line x1="588.8" x2="605.6" y1="339.0" y2="339.0" stroke="#5a3fb8" stroke-width="1.5"/>
<text x="609" y="343.0" font-size="15">k<tspan dy="3.2" font-size="11">2</tspan><tspan dy="-3.2"> = 2.06×10</tspan><tspan dy="-5.5" font-size="10">−2</tspan></text>
<line x1="588.8" x2="605.6" y1="357.5" y2="357.5" stroke="#d48be0" stroke-width="1.5"/>
<text x="609" y="361.3" font-size="15">k<tspan dy="3.2" font-size="11">3</tspan><tspan dy="-3.2"> = 2.01×10</tspan><tspan dy="-5.5" font-size="10">−2</tspan></text>
</g>
</svg>
</body></html>
